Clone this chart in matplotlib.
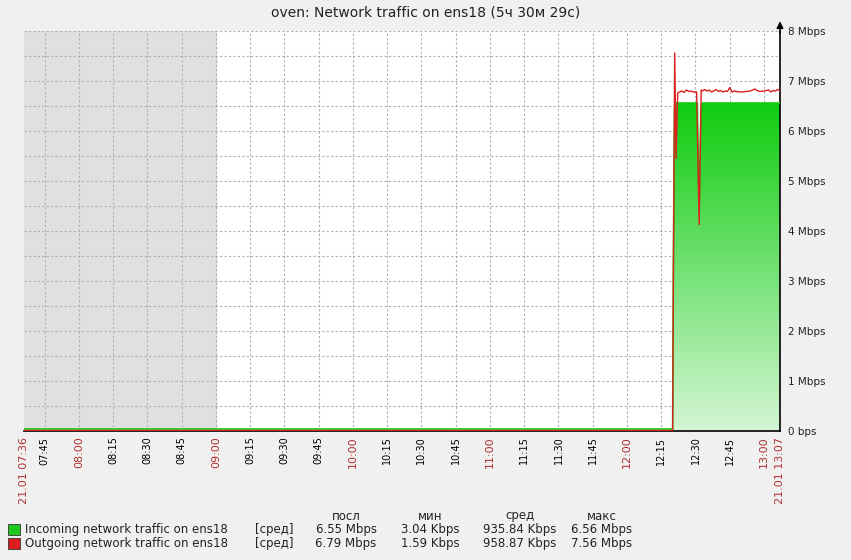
import numpy as np
import matplotlib.pyplot as plt
from matplotlib.colors import LinearSegmentedColormap

# minutes since 21.01 07:36, values in Mbps
idle_in = 0.04
idle_out = 0.01
in_t = [0, 284.0, 284.3, 284.8, 285.2, 294.8, 295.6, 296.4, 297.0, 331]
in_v = [idle_in, idle_in, 3.2, 6.45, 6.56, 6.56, 4.4, 6.4, 6.56, 6.56]
out_t = [0, 284.0, 284.3, 284.9, 285.5, 286.2, 287, 288, 289, 290, 291, 292, 293, 294.5,
         295.6, 296.5, 297, 298, 299, 300, 301, 302, 303, 304, 305, 306, 307, 308, 309,
         310, 311, 312, 314, 316, 318, 320, 321, 322, 324, 326, 327, 328, 329, 330, 331]
out_v = [idle_out, idle_out, 3.0, 7.56, 5.45, 6.76, 6.78, 6.8, 6.77, 6.82, 6.79, 6.8, 6.78, 6.78,
         4.13, 6.82, 6.8, 6.83, 6.8, 6.82, 6.78, 6.8, 6.83, 6.79, 6.81, 6.78, 6.8, 6.79, 6.87,
         6.78, 6.8, 6.79, 6.78, 6.79, 6.8, 6.84, 6.81, 6.79, 6.8, 6.82, 6.78, 6.81, 6.8, 6.83, 6.8]
tick_min = list(range(9, 331, 15))
tick_lab = ["07:45", "08:00", "08:15", "08:30", "08:45", "09:00", "09:15", "09:30", "09:45",
            "10:00", "10:15", "10:30", "10:45", "11:00", "11:15", "11:30", "11:45", "12:00",
            "12:15", "12:30", "12:45", "13:00"]
y_labels = ["0 bps"] + [f"{i} Mbps" for i in range(1, 9)]
legend_rows = [
    ("Incoming network traffic on ens18", "#1ec81e", "6.55 Mbps", "3.04 Kbps", "935.84 Kbps", "6.56 Mbps"),
    ("Outgoing network traffic on ens18", "#dc1e1e", "6.79 Mbps", "1.59 Kbps", "958.87 Kbps", "7.56 Mbps"),
]

bg = "#f0f0f0"
red = "#b03030"
fig = plt.figure(figsize=(8.51, 5.6), dpi=100, facecolor=bg)
ax = fig.add_axes([24 / 851, 129 / 560, 756 / 851, 400 / 560])
ax.set_xlim(0, 331)
ax.set_ylim(0, 8)
ax.set_facecolor("white")
ax.axvspan(0, 84, color="#e0e0e0", zorder=0)

for m in tick_min:
    ax.axvline(m, color="#b0b0b0", ls=(0, (2, 2)), lw=0.8, zorder=1)
for y in np.arange(0.5, 8.01, 0.5):
    ax.axhline(y, color="#b0b0b0", ls=(0, (2, 2)), lw=0.8, zorder=1)

# incoming: gradient fill
poly = ax.fill_between(in_t, 0, in_v, color="none", zorder=2)
cmap = LinearSegmentedColormap.from_list("g", ["#d4f6d4", "#10cc10"])
grad = np.linspace(0, 1, 256).reshape(-1, 1)
im = ax.imshow(grad, cmap=cmap, aspect="auto", origin="lower",
               extent=[0, 331, 0, max(in_v)], zorder=2)
im.set_clip_path(poly.get_paths()[0], transform=ax.transData)
ax.plot(in_t, in_v, color="#10cc10", lw=1.2, zorder=3)
ax.plot(out_t, out_v, color="#dc1e1e", lw=1.0, zorder=4)

for s in ["top", "left"]:
    ax.spines[s].set_visible(False)
ax.spines["bottom"].set_linewidth(1.2)
ax.spines["right"].set_linewidth(1.2)
ax.annotate("", xy=(331, 8.25), xytext=(331, 7.9), xycoords="data",
            arrowprops=dict(arrowstyle="-|>", color="black", lw=1), annotation_clip=False)

ax.yaxis.tick_right()
ax.set_yticks(range(9))
ax.set_yticklabels(y_labels, fontsize=7.5, color="#222222")
ax.tick_params(axis="y", length=0, pad=6)

xt = [0] + tick_min + [331]
xl = ["21.01 07:36"] + tick_lab + ["21.01 13:07"]
ax.set_xticks(xt)
ax.set_xticklabels(xl, rotation=90, fontsize=7)
ax.tick_params(axis="x", length=0, pad=4)
for lab, txt in zip(ax.get_xticklabels(), xl):
    if txt.endswith(":00") or txt.startswith("21.01"):
        lab.set_color(red)
        lab.set_fontsize(8)

fig.text(0.5, 1 - 13 / 560, "oven: Network traffic on ens18 (5ч 30м 29с)",
         ha="center", va="center", fontsize=10, color="#222222")

cols_x = [346, 430, 520, 602]
for x, h in zip(cols_x, ["посл", "мин", "сред", "макс"]):
    fig.text(x / 851, 1 - 516 / 560, h, ha="center", va="center", fontsize=8.5, color="#222222")
for i, (name, c, *vals) in enumerate(legend_rows):
    yy = 1 - (530 + 14 * i) / 560
    fig.patches.append(plt.Rectangle((8 / 851, yy - 5 / 560), 12 / 851, 11 / 560,
                                     transform=fig.transFigure, facecolor=c,
                                     edgecolor="#333333", lw=0.6))
    fig.text(25 / 851, yy, name, va="center", fontsize=8.5, color="#222222")
    fig.text(255 / 851, yy, "[сред]", va="center", fontsize=8.5, color="#222222")
    for x, v in zip(cols_x, vals):
        fig.text(x / 851, yy, v, ha="center", va="center", fontsize=8.5, color="#222222")

fig.savefig("out.png", dpi=100, facecolor=bg)
